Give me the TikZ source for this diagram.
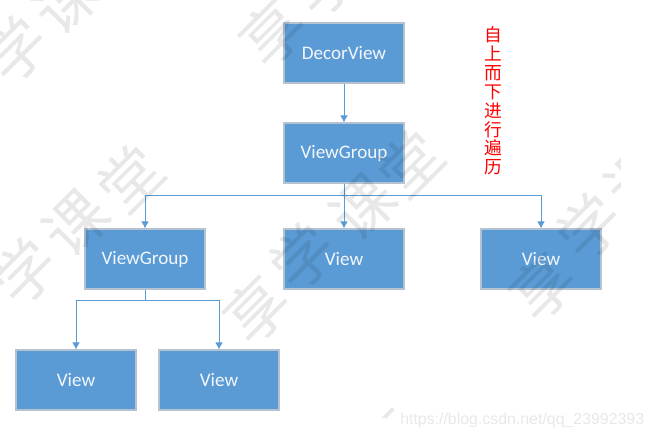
\documentclass[tikz,border=0pt]{standalone}
\usepackage{fontspec}
\usepackage{xcolor}
\setmainfont{Carlito}
\newfontfamily\cjkfont{Noto Sans CJK SC}
\newfontfamily\urlfont{Liberation Sans}
\usetikzlibrary{arrows.meta,shadows}
\definecolor{boxblue}{HTML}{5B9BD5}
\definecolor{boxedge}{HTML}{B4C2D2}
\tikzset{
	viewbox/.style={draw=boxedge, line width=0.8pt, fill=boxblue, minimum width=3cm, minimum height=1.5cm, inner sep=0, text=white!92!boxblue, font=\fontsize{13.6}{15}\selectfont, drop shadow={shadow xshift=0pt, shadow yshift=-1pt, opacity=.2, fill=boxblue}},
	link/.style={draw=boxblue, line width=0.6pt, -{Latex[length=5pt, width=5.5pt]}},
	stamp/.style={rotate=45, inner sep=0, text=black, text opacity=0.09, font=\cjkfont\fontsize{44}{44}\selectfont}
}
\begin{document}
\begin{tikzpicture}[x=0.025cm, y=-0.025cm]
	\useasboundingbox (0,0) rectangle (652,438);
	% boxes
	\node[viewbox] (decor) at (344,53) {DecorView};
	\node[viewbox] (vgtop) at (344,153) {ViewGroup};
	\node[viewbox] (vgleft) at (145,259) {ViewGroup};
	\node[viewbox] (viewmid) at (344,259) {View};
	\node[viewbox] (viewright) at (541,259) {View};
	\node[viewbox] (viewa) at (76,380) {View};
	\node[viewbox] (viewb) at (219,380) {View};
	% connectors
	\coordinate (bustop) at (344,195);
	\coordinate (busleft) at (145,300);
	\draw[link] (decor) -- (vgtop);
	\draw[link] (vgtop) -- (viewmid);
	\draw[link] (bustop) -| (vgleft.north);
	\draw[link] (bustop) -| (viewright.north);
	\draw[link] (vgleft.south) -- (busleft) -| (viewa.north);
	\draw[link] (busleft) -| (viewb.north);
	% side label
	\node[text=red, align=center, inner sep=0, font=\cjkfont\fontsize{12.6}{13.4}\selectfont] (order) at (493,101) {自\\上\\而\\下\\进\\行\\遍\\历};
	\node[anchor=west, inner sep=0, text=black!9, font=\urlfont\fontsize{11.3}{13}\selectfont] (blogurl) at (400,420) {https://blog.csdn.net/qq\_23992393};
	% watermark
	\begin{scope}
		\clip (0,0) rectangle (620,418);
		\foreach \px/\py/\ch [count=\i] in {257/310/享, 303/257/学, 363/207/课, 410/163/堂, 25/272/学, 76/223/课, 130/178/堂, 16/50/学, 66/1/课, 273/33/享, 324/-16/学, 543/287/享, 590/227/学, 638/178/课, 390/443/享} {
			\node[stamp] (mark\i) at (\px,\py) {\ch};
		}
	\end{scope}
\end{tikzpicture}
\end{document}
